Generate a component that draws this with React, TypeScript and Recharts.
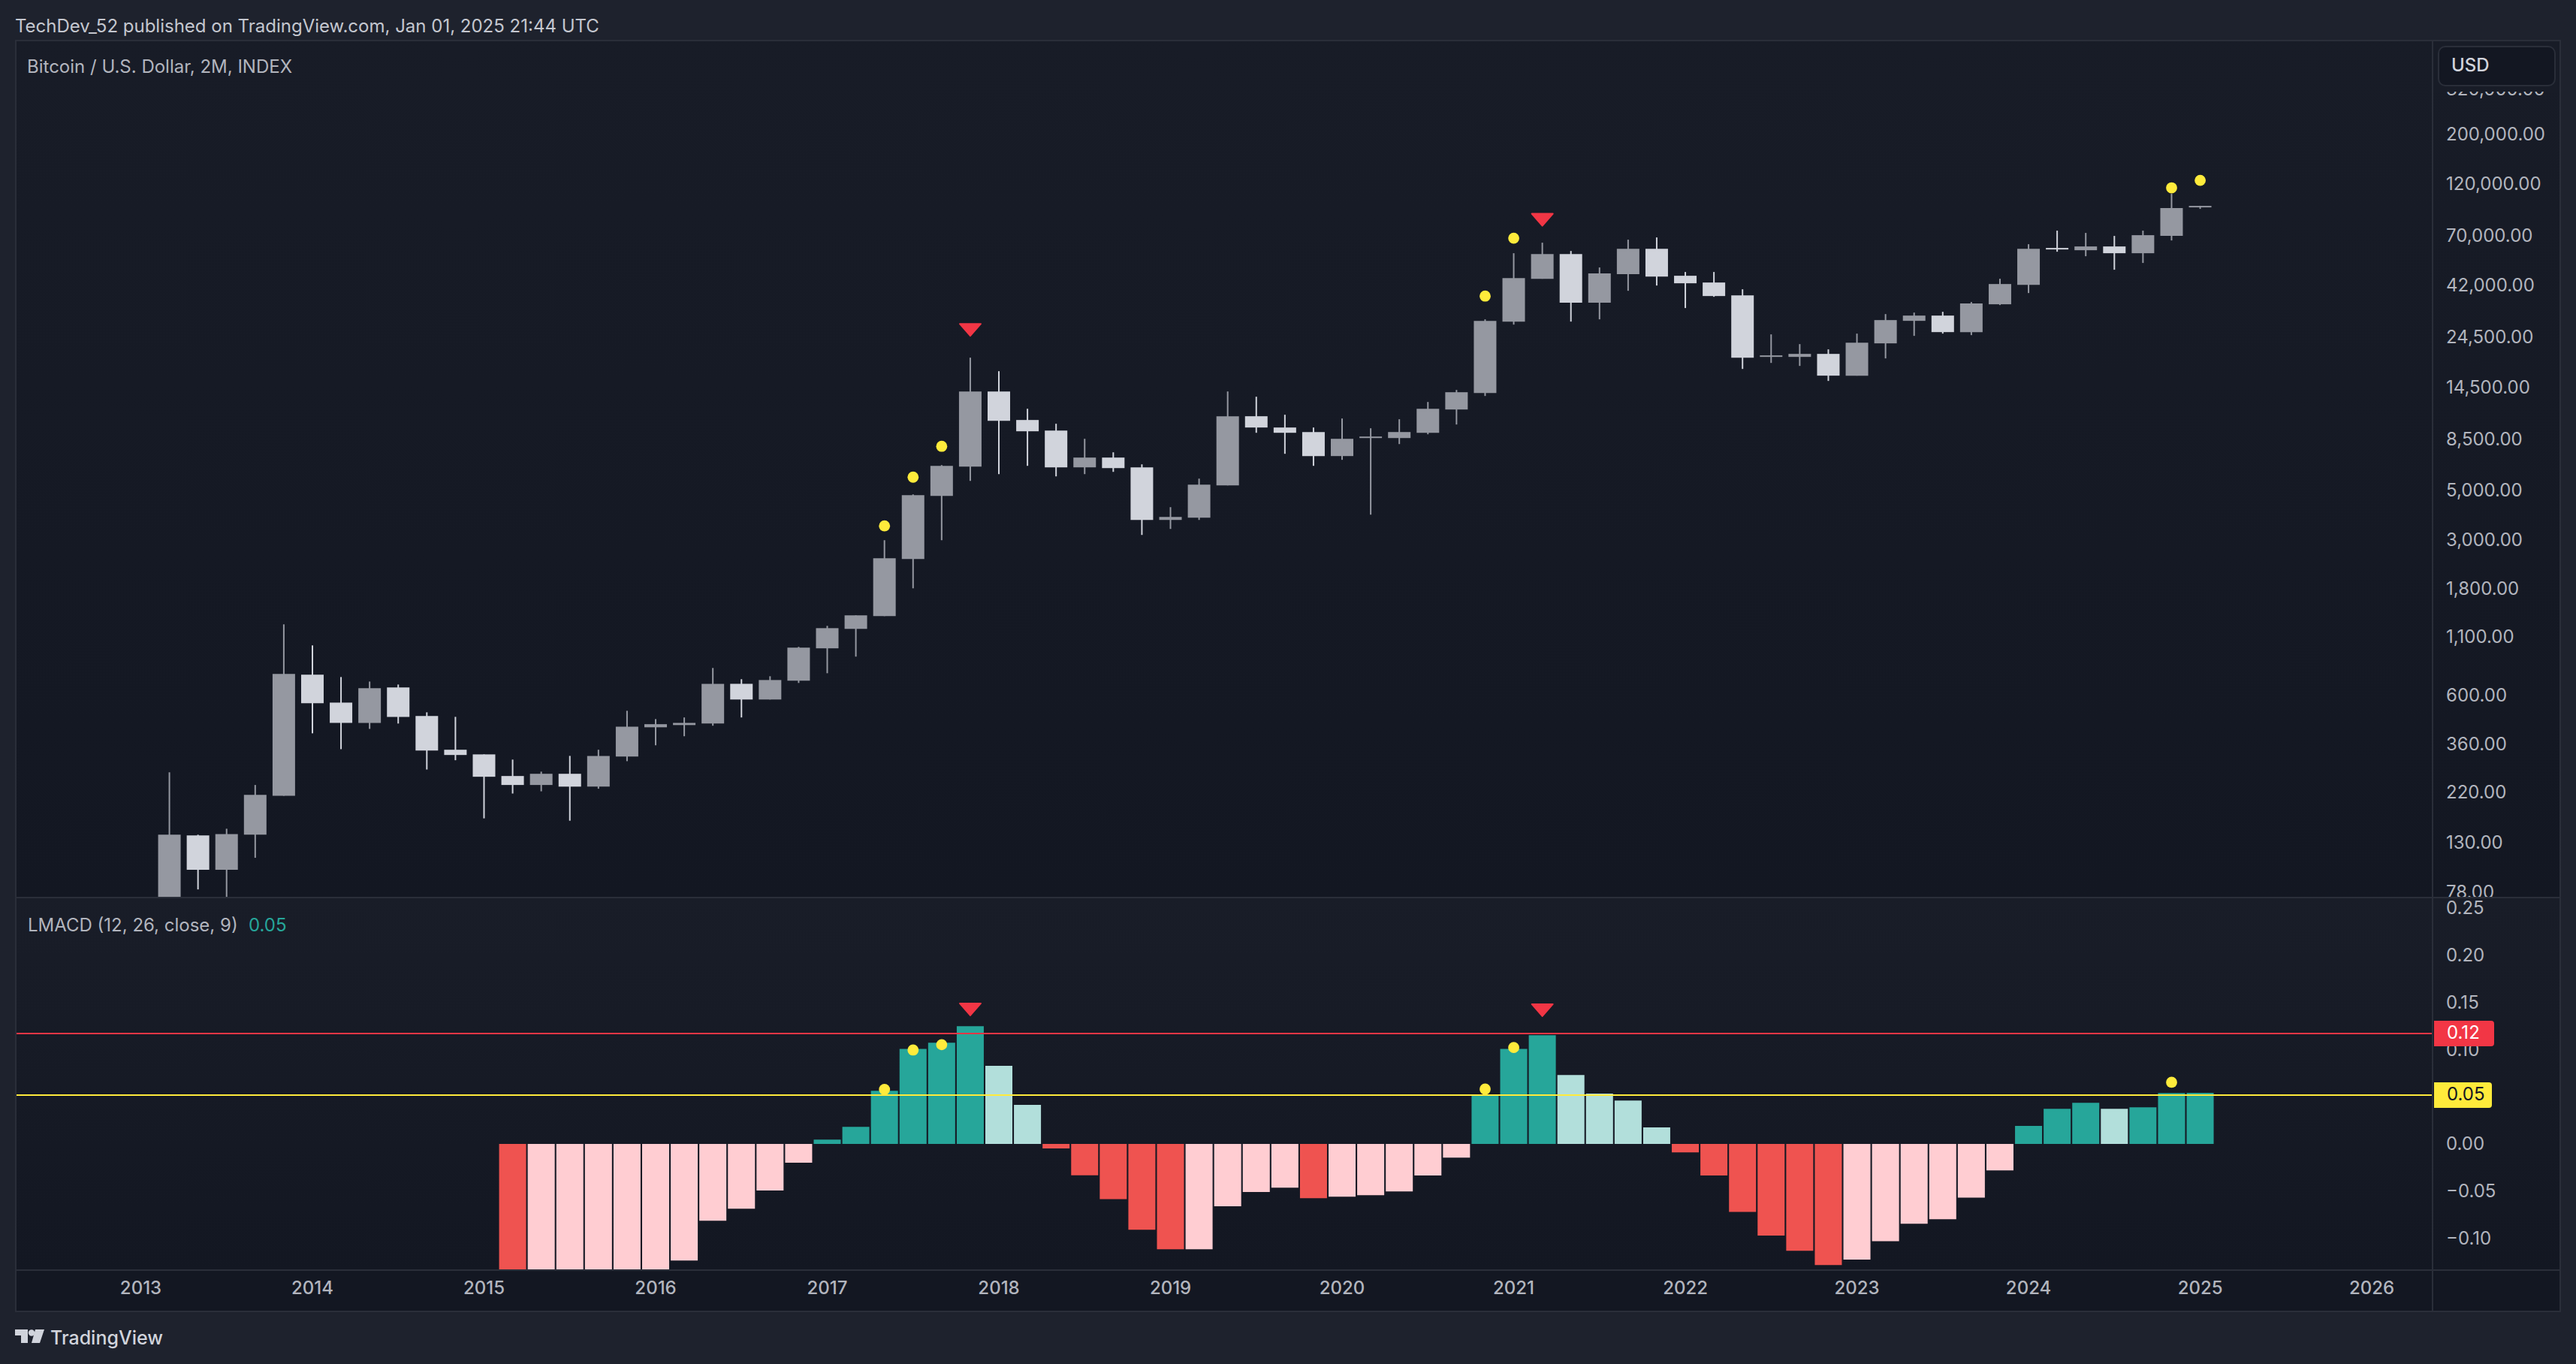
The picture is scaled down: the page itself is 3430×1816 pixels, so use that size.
import { Bar, Cell, ComposedChart, ReferenceLine, Scatter, XAxis, YAxis } from "recharts";

const FONT = "Inter, 'Noto Sans', sans-serif";
const UP = "#9598a1";
const DOWN = "#d1d4dc";
const RED = "#f23645";
const YELLOW = "#ffeb3b";
const AXIS_TEXT = "#b2b5be";

// 2M candles, first one is Mar 2013
const opens = [34, 140, 98, 141, 211, 740, 554, 449, 648, 482, 340, 324, 259, 236, 265, 232, 317, 429, 439, 446, 673, 572, 695, 972, 1189, 1357, 2452, 4715, 6386, 13907, 10349, 9278, 6336, 7012, 6336, 3675, 3762, 5256, 10759, 9573, 9135, 7122, 8583, 8583, 9064, 11536, 13692, 28678, 44692, 57775, 34847, 46834, 61010, 46108, 42985, 37656, 19893, 19893, 20523, 16381, 22890, 28902, 30522, 25717, 34309, 41990, 61488, 60066, 62453, 58226, 69655, 93609];
const highs = [269, 141, 150, 236, 1246, 1002, 722, 689, 668, 501, 478, 324, 307, 271, 319, 340, 509, 467, 475, 793, 706, 728, 987, 1227, 1368, 2979, 4789, 6487, 19739, 17158, 11627, 9953, 8516, 7405, 6537, 4195, 5638, 13907, 13169, 10928, 9573, 10511, 9498, 10429, 12470, 14126, 29355, 58226, 64935, 59600, 50238, 66993, 68573, 47941, 47941, 40075, 25123, 22711, 21507, 25320, 31001, 31488, 31737, 35120, 44692, 63927, 73558, 71861, 69655, 73558, 107704, 95080];
const lows = [33, 80, 65, 111, 211, 403, 342, 422, 446, 277, 305, 167, 216, 221, 163, 227, 302, 356, 391, 436, 475, 572, 679, 751, 892, 1357, 1810, 2979, 5507, 5907, 6436, 5771, 5907, 6047, 3146, 3348, 3675, 5256, 9064, 7291, 6436, 6850, 3881, 8064, 8924, 9876, 13272, 27799, 44692, 28678, 29355, 39456, 41666, 32998, 37074, 17562, 18691, 18119, 15511, 16381, 19586, 24735, 25320, 24928, 34043, 38544, 59138, 56439, 49077, 52642, 66468, 92161];
const closes = [141, 98, 142, 213, 746, 550, 449, 643, 478, 337, 322, 257, 236, 265, 232, 319, 432, 443, 449, 673, 572, 700, 979, 1198, 1368, 2471, 4752, 6436, 13907, 10268, 9207, 6336, 7012, 6287, 3675, 3791, 5297, 10759, 9573, 9064, 7122, 8516, 8718, 9135, 11627, 13799, 28902, 45041, 57775, 34847, 47201, 61010, 45749, 42651, 37365, 19739, 20206, 20523, 16381, 23070, 29129, 30522, 25717, 34576, 42321, 61010, 60538, 62453, 58226, 70196, 92881, 95080];

// LMACD histogram, first bar is Mar 2015
const histValues = [-0.17, -0.165, -0.16, -0.155, -0.15, -0.14, -0.1235, -0.0813, -0.0687, -0.0493, -0.02, 0.0045, 0.0181, 0.0561, 0.1006, 0.107, 0.1245, 0.0826, 0.0413, -0.0048, -0.0332, -0.0584, -0.0909, -0.1116, -0.1115, -0.0661, -0.051, -0.0464, -0.0574, -0.0558, -0.0542, -0.0503, -0.0335, -0.0145, 0.051, 0.1006, 0.1151, 0.0729, 0.0532, 0.0458, 0.0174, -0.009, -0.0335, -0.0719, -0.0971, -0.1132, -0.1283, -0.1225, -0.1029, -0.0845, -0.0797, -0.0568, -0.0281, 0.019, 0.0371, 0.0435, 0.0371, 0.0387, 0.0539, 0.054];

// signals: time, level
const priceDots = [[2017 + 2 / 6, 3454], [2017 + 3 / 6, 5726], [2017 + 4 / 6, 7879], [2020 + 5 / 6, 37365], [2021, 68043], [2024 + 5 / 6, 114638], [2025, 123863]].map(([t, v]) => ({ t, v }));
const priceTops = [[2017 + 5 / 6, 26323], [2021 + 1 / 6, 82325]].map(([t, v]) => ({ t, v }));
const histDots = [[2017 + 2 / 6, 0.0576], [2017 + 3 / 6, 0.0994], [2017 + 4 / 6, 0.105], [2020 + 5 / 6, 0.058], [2021, 0.102], [2024 + 5 / 6, 0.0652]].map(([t, v]) => ({ t, v }));
const histTops = [[2017 + 5 / 6, 0.1423], [2021 + 1 / 6, 0.1415]].map(([t, v]) => ({ t, v }));

const priceTicks = [320000, 200000, 120000, 70000, 42000, 24500, 14500, 8500, 5000, 3000, 1800, 1100, 600, 360, 220, 130, 78];
const histTicks = [0.25, 0.2, 0.15, 0.1, 0.05, 0, -0.05, -0.1];
const yearTicks = [2013, 2014, 2015, 2016, 2017, 2018, 2019, 2020, 2021, 2022, 2023, 2024, 2025, 2026];
const X_DOMAIN: [number, number] = [2012.2713, 2026.354];
const HIST_DOMAIN: [number, number] = [-0.1328, 0.2607];

const candles = opens.map((open, i) => ({
  t: 2013 + (i + 1) / 6,
  wick: [lows[i], highs[i]],
  body: [Math.min(open, closes[i]), Math.max(open, closes[i])],
  up: closes[i] >= open,
}));

const hist = histValues.map((value, i) => ({
  t: 2015 + (i + 1) / 6,
  value,
  rising: i > 0 && value > histValues[i - 1],
}));

function histColor(value: number, rising: boolean) {
  if (value >= 0) return rising ? "#26a69a" : "#b2dfdb";
  return rising ? "#ffcdd2" : "#ef5350";
}

const priceLabel = (v: number) => v.toLocaleString("en-US", { minimumFractionDigits: 2, maximumFractionDigits: 2 });
const histLabel = (v: number) => (v < 0 ? "\u2212" : "") + Math.abs(v).toFixed(2);

const YellowDot = (props: any) => <circle cx={props.cx} cy={props.cy} r={7.4} fill={YELLOW} />;
const RedTriangle = (props: any) => (
  <polygon
    points={`${props.cx - 14},${props.cy - 8} ${props.cx + 14},${props.cy - 8} ${props.cx},${props.cy + 8}`}
    fill={RED}
    stroke={RED}
    strokeWidth={2}
    strokeLinejoin="round"
  />
);

function PriceTag({ viewBox, text, fill, color, w }: any) {
  const x = viewBox.x + viewBox.width + 2;
  const y = viewBox.y;
  return (
    <g>
      <path d={`M${x},${y - 17} h${w - 4} q4,0 4,4 v26 q0,4 -4,4 h${-(w - 4)} z`} fill={fill} />
      <text x={x + 17} y={y + 1} dominantBaseline="middle" fill={color} fontSize={24} fontFamily={FONT}>
        {text}
      </text>
    </g>
  );
}

function Label({ x, y, color, size = 24, weight = 400, children }: any) {
  return (
    <div style={{ position: "absolute", left: x, top: y, color, fontSize: size, fontWeight: weight, lineHeight: "30px", whiteSpace: "nowrap" }}>
      {children}
    </div>
  );
}

function Box({ x, y, w, h, bg }: any) {
  return <div style={{ position: "absolute", left: x, top: y, width: w, height: h, background: bg }} />;
}

export default function App() {
  return (
    <div style={{ position: "absolute", left: 0, top: 0, width: 3430, height: 1816, background: "#1e222d", fontFamily: FONT, overflow: "hidden" }}>
      <Box x={21} y={54} w={3388} h={1140} bg="linear-gradient(#181c27, #131722)" />
      <Box x={21} y={1195} w={3388} h={495} bg="linear-gradient(#191d28, #131722)" />
      <Box x={21} y={1692} w={3388} h={54} bg="#131722" />

      <div style={{ position: "absolute", left: 21, top: 54 }}>
        <ComposedChart width={3388} height={1140} data={candles} margin={{ top: 0, right: 0, bottom: 0, left: 0 }}>
          <XAxis xAxisId="wick" type="number" dataKey="t" domain={X_DOMAIN} allowDataOverflow hide />
          <XAxis xAxisId="body" type="number" dataKey="t" domain={X_DOMAIN} allowDataOverflow hide />
          <YAxis
            orientation="right"
            width={170}
            scale="log"
            domain={[74.1, 527000]}
            allowDataOverflow
            ticks={priceTicks}
            interval={0}
            tickFormatter={priceLabel}
            axisLine={false}
            tickLine={false}
            tickSize={0}
            tickMargin={18}
            tick={{ fill: AXIS_TEXT, fontSize: 24, fontFamily: FONT }}
          />
          <Bar xAxisId="wick" dataKey="wick" barSize={2} isAnimationActive={false}>
            {candles.map((c) => (
              <Cell key={c.t} fill={c.up ? UP : DOWN} />
            ))}
          </Bar>
          <Bar xAxisId="body" dataKey="body" barSize={30} isAnimationActive={false}>
            {candles.map((c) => (
              <Cell key={c.t} fill={c.up ? UP : DOWN} />
            ))}
          </Bar>
          <Scatter xAxisId="body" data={priceDots} dataKey="v" shape={YellowDot} isAnimationActive={false} />
          <Scatter xAxisId="body" data={priceTops} dataKey="v" shape={RedTriangle} isAnimationActive={false} />
        </ComposedChart>
      </div>

      <div style={{ position: "absolute", left: 21, top: 1195 }}>
        <ComposedChart width={3388} height={551} data={hist} margin={{ top: 0, right: 0, bottom: 0, left: 0 }}>
          <XAxis
            type="number"
            dataKey="t"
            domain={X_DOMAIN}
            allowDataOverflow
            ticks={yearTicks}
            interval={0}
            height={56}
            axisLine={false}
            tickLine={false}
            tickSize={0}
            tickMargin={16}
            tick={{ fill: AXIS_TEXT, fontSize: 24, fontWeight: 500, fontFamily: FONT }}
          />
          <YAxis
            orientation="right"
            width={170}
            domain={HIST_DOMAIN}
            allowDataOverflow
            ticks={histTicks}
            interval={0}
            tickFormatter={histLabel}
            axisLine={false}
            tickLine={false}
            tickSize={0}
            tickMargin={18}
            tick={{ fill: AXIS_TEXT, fontSize: 24, fontFamily: FONT }}
          />
          <Bar dataKey="value" barSize={36} isAnimationActive={false}>
            {hist.map((h) => (
              <Cell key={h.t} fill={histColor(h.value, h.rising)} />
            ))}
          </Bar>
        </ComposedChart>
      </div>

      {/* second layer so the price tags sit over the axis labels */}
      <div style={{ position: "absolute", left: 21, top: 1195 }}>
        <ComposedChart width={3388} height={551} data={hist} margin={{ top: 0, right: 170, bottom: 56, left: 0 }}>
          <XAxis type="number" dataKey="t" domain={X_DOMAIN} allowDataOverflow hide />
          <YAxis domain={HIST_DOMAIN} allowDataOverflow hide />
          <ReferenceLine y={0.1169} stroke={RED} strokeWidth={2} label={(p: any) => <PriceTag {...p} text="0.12" fill={RED} color="#ffffff" w={80} />} />
          <ReferenceLine y={0.0517} stroke={YELLOW} strokeWidth={2} label={(p: any) => <PriceTag {...p} text="0.05" fill={YELLOW} color="#131722" w={77} />} />
          <Scatter data={histDots} dataKey="v" shape={YellowDot} isAnimationActive={false} />
          <Scatter data={histTops} dataKey="v" shape={RedTriangle} isAnimationActive={false} />
        </ComposedChart>
      </div>

      {/* currency button hides most of the top label */}
      <Box x={3240} y={55} w={168} h={67} bg="#181c27" />

      {/* panel borders */}
      <Box x={20} y={53} w={3390} h={2} bg="#2a2e39" />
      <Box x={20} y={53} w={2} h={1694} bg="#2a2e39" />
      <Box x={3408} y={53} w={2} h={1694} bg="#2a2e39" />
      <Box x={20} y={1194} w={3390} h={2} bg="#2a2e39" />
      <Box x={20} y={1690} w={3390} h={2} bg="#2a2e39" />
      <Box x={20} y={1745} w={3390} h={2} bg="#2a2e39" />
      <Box x={3238} y={53} w={2} h={1694} bg="#2a2e39" />

      <Label x={20} y={20} color="#c4c7cf">TechDev_52 published on TradingView.com, Jan 01, 2025 21:44 UTC</Label>
      <Label x={36} y={74} color={AXIS_TEXT}>Bitcoin / U.S. Dollar, 2M, INDEX</Label>
      <Label x={37} y={1217} color={AXIS_TEXT}>LMACD (12, 26, close, 9)</Label>
      <Label x={331} y={1217} color="#26a69a">0.05</Label>

      <div style={{ position: "absolute", left: 3246, top: 61, width: 157, height: 54, boxSizing: "border-box", background: "#131722", border: "2px solid #2a2e39", borderRadius: 10 }} />
      <Label x={3264} y={72} color="#d1d4dc" weight={500}>USD</Label>

      <svg style={{ position: "absolute", left: 20, top: 1768 }} width={40} height={22}>
        <path d="M0,2 H17 V20 H8 V10 H0 Z" fill="#d1d4dc" />
        <circle cx={22} cy={6.5} r={4.2} fill="#d1d4dc" />
        <path d="M27,2 H39 L33,20 H22 Z" fill="#d1d4dc" />
      </svg>
      <Label x={67} y={1766} color="#d1d4dc" size={25} weight={500}>TradingView</Label>
    </div>
  );
}
